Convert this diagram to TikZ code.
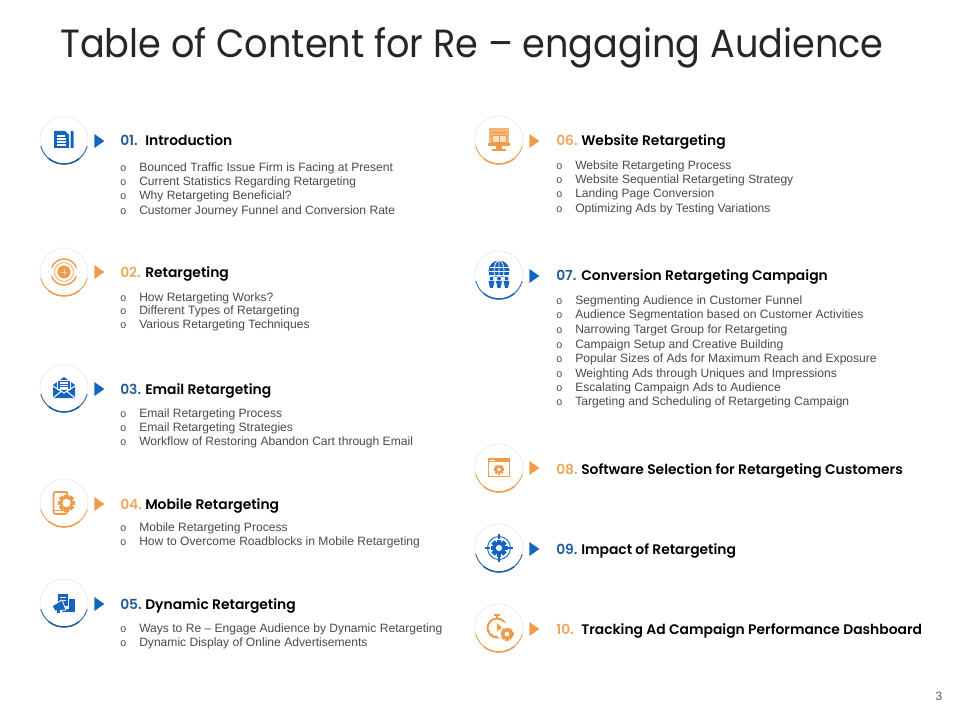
\documentclass[tikz,border=0pt]{standalone}
\usepackage{fontspec}
\setmainfont{Liberation Sans}
\newfontfamily\headfont{Poppins}[BoldFont={Poppins SemiBold}]
\newfontfamily\titlefont{Poppins}[FakeStretch=0.932]
\usepackage{xcolor}
\definecolor{iconblue}{HTML}{1565C0}
\definecolor{numblue}{HTML}{1F5C99}
\definecolor{iconorange}{HTML}{EE9C4A}
\definecolor{numorange}{HTML}{EFA760}
\definecolor{itemgray}{HTML}{4A4A4A}
\usetikzlibrary{shapes.geometric}

\newcommand{\bubble}[2]{%
  \draw[ringgray] (#1) circle (24);
  \draw[color=#2, line width=0.6pt] ([shift={(15:24)}]#1) arc[start angle=15, end angle=165, radius=24];
  \draw[color=#2, line width=1.1pt] ([shift={(50:24)}]#1) arc[start angle=50, end angle=130, radius=24];
}
\newcommand{\gearicon}[4]{% x, y, radius, colour
  \foreach \a in {0,45,...,315} {
    \fill[#4, rotate around={\a:(#1,#2)}] (#1-0.28*#3,#2) rectangle (#1+0.28*#3,#2-#3);
  }
  \fill[#4] (#1,#2) circle (0.74*#3);
  \fill[white] (#1,#2) circle (0.36*#3);
}

\tikzset{
  ringgray/.style={color=black!6, line width=0.8pt},
  title/.style={anchor=base west, font=\titlefont\fontsize{29.5}{32}\selectfont, text=black!85, inner sep=0},
  numtext/.style={anchor=base west, font=\headfont\bfseries\fontsize{10.4}{12}\selectfont, inner sep=0},
  headtext/.style={anchor=base west, font=\headfont\bfseries\fontsize{10.4}{12}\selectfont, text=black, inner sep=0},
  item/.style={anchor=base west, font=\fontsize{9.06}{10}\selectfont, text=itemgray, inner sep=0,
    label={[font=\fontsize{8}{8}\selectfont, text=itemgray, inner sep=0, anchor=base east, xshift=-9.3pt]base west:o}},
  marker/.style={isosceles triangle, isosceles triangle stretches, inner sep=0, minimum width=10.5pt, minimum height=7.5pt},
}

\begin{document}
\begin{tikzpicture}[x=0.75pt,y=-0.75pt]
        \useasboundingbox (0,0) rectangle (960,720);

        \coordinate (Ia) at (64,140);
        \coordinate (Ib) at (64,272);
        \coordinate (Ic) at (64,388);
        \coordinate (Id) at (64,503);
        \coordinate (Ie) at (64,603);
        \coordinate (If) at (499,140);
        \coordinate (Ig) at (499,275);
        \coordinate (Ih) at (499,468);
        \coordinate (Ii) at (499,548);
        \coordinate (Ij) at (499,628);

        \node[title] (heading) at (60,58) {Table of Content for Re – engaging Audience};
        \node[anchor=base, font=\fontsize{9}{10}\selectfont, text=black!65, inner sep=0] (pagenum) at (939,700) {3};

        \bubble{Ia}{numblue}
        \bubble{Ib}{iconorange}
        \bubble{Ic}{numblue}
        \bubble{Id}{iconorange}
        \bubble{Ie}{numblue}
        \bubble{If}{iconorange}
        \bubble{Ig}{iconblue}
        \bubble{Ih}{iconorange}
        \bubble{Ii}{numblue}
        \bubble{Ij}{iconorange}

        \node[marker, fill=iconblue] (ma) at (98,141) {};
        \node[marker, fill=iconorange] (mb) at (98,272) {};
        \node[marker, fill=iconblue] (mc) at (98,389) {};
        \node[marker, fill=iconorange] (md) at (98,504) {};
        \node[marker, fill=iconblue] (me) at (98,604) {};
        \node[marker, fill=iconorange] (mf) at (533,141) {};
        \node[marker, fill=iconblue] (mg) at (533,276) {};
        \node[marker, fill=iconorange] (mh) at (533,468) {};
        \node[marker, fill=iconblue] (mi) at (533,549) {};
        \node[marker, fill=iconorange] (mj) at (533,629) {};

        % left column
        \node[numtext, text=numblue] (na) at (120,146) {01.};
        \node[headtext] (ha) at (145,146) {Introduction};
        \node[item] (a1) at (139,172) {Bounced Traffic Issue Firm is Facing at Present};
        \node[item] (a2) at (139,186) {Current Statistics Regarding Retargeting};
        \node[item] (a3) at (139,200) {Why Retargeting Beneficial?};
        \node[item] (a4) at (139,215) {Customer Journey Funnel and Conversion Rate};

        \node[numtext, text=numorange] (nb) at (120,278) {02.};
        \node[headtext] (hb) at (145,278) {Retargeting};
        \node[item] (b1) at (139,301) {How Retargeting Works?};
        \node[item] (b2) at (139,315) {Different Types of Retargeting};
        \node[item] (b3) at (139,329) {Various Retargeting Techniques};

        \node[numtext, text=numblue] (nc) at (120,394) {03.};
        \node[headtext] (hc) at (145,394) {Email Retargeting};
        \node[item] (c1) at (139,417) {Email Retargeting Process};
        \node[item] (c2) at (139,431) {Email Retargeting Strategies};
        \node[item] (c3) at (139,445) {Workflow of Restoring Abandon Cart through Email};

        \node[numtext, text=numorange] (nd) at (120,509) {04.};
        \node[headtext] (hd) at (145,509) {Mobile Retargeting};
        \node[item] (d1) at (139,531) {Mobile Retargeting Process};
        \node[item] (d2) at (139,545) {How to Overcome Roadblocks in Mobile Retargeting};

        \node[numtext, text=numblue] (ne) at (120,609) {05.};
        \node[headtext] (he) at (145,609) {Dynamic Retargeting};
        \node[item] (e1) at (139,632) {Ways to Re – Engage Audience by Dynamic Retargeting};
        \node[item] (e2) at (139,646) {Dynamic Display of Online Advertisements};

        % right column
        \node[numtext, text=numorange] (nf) at (556,146) {06.};
        \node[headtext] (hf) at (581,146) {Website Retargeting};
        \node[item] (f1) at (575,170) {Website Retargeting Process};
        \node[item] (f2) at (575,184) {Website Sequential Retargeting Strategy};
        \node[item] (f3) at (575,198) {Landing Page Conversion};
        \node[item] (f4) at (575,213) {Optimizing Ads by Testing Variations};

        \node[numtext, text=numblue] (ng) at (556,281) {07.};
        \node[headtext] (hg) at (581,281) {Conversion Retargeting Campaign};
        \node[item] (g1) at (575,305) {Segmenting Audience in Customer Funnel};
        \node[item] (g2) at (575,319) {Audience Segmentation based on Customer Activities};
        \node[item] (g3) at (575,333) {Narrowing Target Group for Retargeting};
        \node[item] (g4) at (575,348) {Campaign Setup and Creative Building};
        \node[item] (g5) at (575,362) {Popular Sizes of Ads for Maximum Reach and Exposure};
        \node[item] (g6) at (575,377) {Weighting Ads through Uniques and Impressions};
        \node[item] (g7) at (575,391) {Escalating Campaign Ads to Audience};
        \node[item] (g8) at (575,405) {Targeting and Scheduling of Retargeting Campaign};

        \node[numtext, text=numorange] (nh) at (556,474) {08.};
        \node[headtext] (hh) at (581,474) {Software Selection for Retargeting Customers};
        \node[numtext, text=numblue] (ni) at (556,554) {09.};
        \node[headtext] (hi) at (581,554) {Impact of Retargeting};
        \node[numtext, text=numorange] (nj) at (556,634) {10.};
        \node[headtext] (hj) at (581,634) {Tracking Ad Campaign Performance Dashboard};

        % document and pen
        \begin{scope}[shift={(Ia)}]
          \fill[iconblue] (-10,-9) -- (1,-9) -- (5,-5) -- (5,8) -- (-10,8) -- cycle;
          \draw[white, line width=0.8pt] (-7,-4) -- (1,-4) (-7,-1) -- (2,-1) (-7,2) -- (2,2) (-7,5) -- (2,5);
          \fill[iconblue] (6.5,-8) -- (8,-9.5) -- (9.5,-8) -- (9.5,8) -- (6.5,8) -- cycle;
        \end{scope}
        % target
        \begin{scope}[shift={(Ib)}]
          \draw[iconorange, line width=1.1pt] (0,0) ++(20:13) arc[start angle=20, end angle=160, radius=13];
          \draw[iconorange, line width=1.1pt] (0,0) ++(200:13) arc[start angle=200, end angle=340, radius=13];
          \draw[iconorange!70, line width=0.8pt] (0,0) circle (9.5);
          \fill[iconorange] (0,0) circle (6.5);
          \draw[numorange!50!white, line width=0.5pt] (-3,0) -- (3,0) (0,-3) -- (0,3);
        \end{scope}
        % envelope
        \begin{scope}[shift={(Ic)}]
          \fill[iconblue] (-11,-3) -- (0,-11) -- (11,-3) -- (11,10) -- (-11,10) -- cycle;
          \fill[white] (-7,-8) rectangle (7,2);
          \fill[iconblue] (-6,-7.5) rectangle (6,1);
          \draw[white, line width=0.8pt] (-4,-5) -- (4,-5) (-4,-2.5) -- (4,-2.5) (-4,0) -- (4,0);
          \draw[white, line width=0.8pt] (-11,-2) -- (0,5) -- (11,-2) (-11,10) -- (-3,3.5) (11,10) -- (3,3.5);
        \end{scope}
        % phone and gear
        \begin{scope}[shift={(Id)}]
          \draw[iconorange, line width=1.3pt, rounded corners=1.5pt] (3,-11) -- (-10.5,-11) -- (-10.5,11) -- (3,11) -- (3,8);
          \draw[iconorange, line width=1.3pt] (3,-11) -- (3,-8) (-10.5,7.5) -- (3,7.5);
          \gearicon{2.5}{0}{8.5}{iconorange}
          \fill[white] (2.5,0) circle (4.2);
        \end{scope}
        % megaphone and building
        \begin{scope}[shift={(Ie)}]
          \fill[iconblue] (-6,-9) rectangle (4,3);
          \draw[white, line width=0.7pt] (-4,-6) -- (2,-6) (-4,-3) -- (2,-3);
          \fill[iconblue] (4.8,-4) rectangle (11,9);
          \fill[iconblue] (-2,6) rectangle (11,9);
          \fill[iconblue, draw=white, line width=0.6pt] (-12,3) -- (-2,-3) -- (2,7) -- (-9,8) -- cycle;
          \fill[iconblue] (-7,7) rectangle (-4,10);
        \end{scope}
        % monitor
        \begin{scope}[shift={(If)}]
          \fill[iconorange!75] (-10,-12) rectangle (10,5);
          \fill[iconorange] (-3,5) rectangle (3,9);
          \fill[iconorange] (-7,9) rectangle (7,11);
          \fill[iconorange] (-11,3) rectangle (11,6);
          \fill[white, opacity=0.6] (-7,-5) rectangle (7,2);
          \draw[iconorange, line width=0.7pt] (-7,-8) -- (7,-8) (-7,-5) rectangle (7,2) (0,-5) -- (0,2);
        \end{scope}
        % globe and people
        \begin{scope}[shift={(Ig)}]
          \fill[iconblue] (0,-4) circle (10.5);
          \draw[white, line width=0.6pt] (-10.5,-4) -- (10.5,-4) (-9.5,-8) -- (9.5,-8) (-9.5,0) -- (9.5,0);
          \draw[white, line width=0.6pt] (0,-14.5) -- (0,6.5) (0,-4) ellipse (5 and 10.5);
          \fill[white] (-11,2.5) rectangle (11,7);
          \fill[white] (-7.5,3.5) circle (3) (0,3.5) circle (3) (7.5,3.5) circle (3);
          \fill[iconblue] (-7.5,3.5) circle (2) (0,3.5) circle (2) (7.5,3.5) circle (2);
          \fill[iconblue] (-10.5,6) -- (-4.5,6) -- (-6,13) -- (-9,13) -- cycle;
          \fill[iconblue] (-3,6) -- (3,6) -- (1.5,13) -- (-1.5,13) -- cycle;
          \fill[iconblue] (4.5,6) -- (10.5,6) -- (9,13) -- (6,13) -- cycle;
        \end{scope}
        % browser window
        \begin{scope}[shift={(Ih)}]
          \draw[iconorange, line width=1pt] (-10.5,-9.5) rectangle (10.5,8.5);
          \fill[iconorange] (-11,-10) rectangle (11,-6);
          \draw[white, line width=0.6pt] (-9,-8) -- (-4,-8);
          \gearicon{0}{1.5}{5}{iconorange}
        \end{scope}
        % gear in target
        \begin{scope}[shift={(Ii)}]
          \draw[iconblue, line width=0.7pt] (0,0) circle (11.5);
          \draw[iconblue, line width=0.8pt] (-14,0) -- (-9,0) (9,0) -- (14,0) (0,-14) -- (0,-9) (0,9) -- (0,14);
          \gearicon{0}{0}{8.5}{iconblue}
        \end{scope}
        % stopwatch and gear
        \begin{scope}[shift={(Ij)}]
          \fill[iconorange] (-5,-14) rectangle (1,-12);
          \fill[iconorange] (-3,-12) rectangle (-1,-9);
          \draw[iconorange, line width=1.5pt] (-2,0) circle (9.5);
          \fill[white] (3,2) circle (8);
          \draw[iconorange, line width=1.3pt, dotted] (-2,8.5) arc[start angle=90, end angle=180, radius=8.5];
          \fill[iconorange] (-2,-5) -- (3,0) -- (-2,3) -- cycle;
          \gearicon{8}{6}{6.5}{iconorange}
        \end{scope}
    \end{tikzpicture}
\end{document}
